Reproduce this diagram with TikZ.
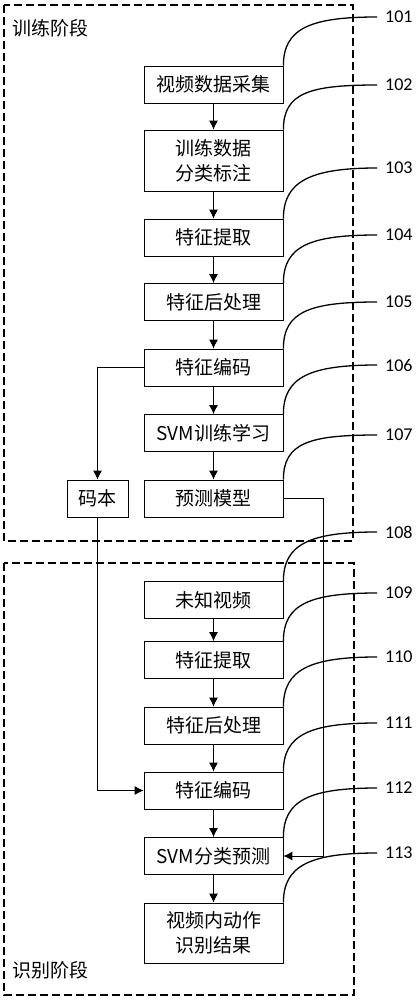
\documentclass[tikz,border=0pt]{standalone}
\usepackage{fontspec}
\setmainfont{Noto Sans CJK SC}
\newfontfamily\numfont{Carlito}
\usepackage{tikz}
\usetikzlibrary{arrows.meta}

\tikzset{
	stepbox/.style = {draw, line width = 0.8pt, minimum width = 139pt, minimum height = 37pt,
		inner sep = 0pt, align = center, font = \fontsize{19pt}{25pt}\selectfont},
	arr/.style = {line width = 0.9pt, -{Latex[length = 9pt, width = 9pt]}},
	phase/.style = {dash pattern = on 8pt off 4pt, line width = 1.2pt},
	numlbl/.style = {anchor = west, inner xsep = 8pt, inner ysep = 0pt, font = \numfont\fontsize{18pt}{20pt}\selectfont},
	leader/.style = {line width = 1.3pt}
}

\begin{document}
\begin{tikzpicture}[x = 1pt, y = -1pt]
\useasboundingbox (0,0) rectangle (418,1000);

% two stages
\draw[phase] (4,5) rectangle (353,541);
\draw[phase] (4,563) rectangle (354,995);
\node[anchor = west, inner sep = 0pt, font = \fontsize{19pt}{25pt}\selectfont] (train) at (12,28) {训练阶段};
\node[anchor = west, inner sep = 0pt, font = \fontsize{19pt}{25pt}\selectfont] (recog) at (12,970) {识别阶段};

% training
\node[stepbox] (b1) at (213.5,84.5) {视频数据采集};
\node[stepbox, minimum height = 61pt] (b2) at (213.5,160.5) {训练数据\\分类标注};
\node[stepbox] (b3) at (213.5,237.5) {特征提取};
\node[stepbox] (b4) at (213.5,302) {特征后处理};
\node[stepbox] (b5) at (213.5,367.5) {特征编码};
\node[stepbox] (b6) at (213.5,433) {SVM训练学习};
\node[stepbox] (b7) at (213.5,498.5) {预测模型};
\node[stepbox, minimum width = 61pt] (cb) at (97.5,498.5) {码本};

% recognition
\node[stepbox] (b8) at (213.5,600) {未知视频};
\node[stepbox] (b9) at (213.5,660) {特征提取};
\node[stepbox] (b10) at (213.5,725.5) {特征后处理};
\node[stepbox] (b11) at (213.5,790.5) {特征编码};
\node[stepbox] (b12) at (213.5,856) {SVM分类预测};
\node[stepbox, minimum height = 60pt] (b13) at (213.5,933) {视频内动作\\识别结果};

\foreach \a/\b in {b1/b2,b2/b3,b3/b4,b4/b5,b5/b6,b6/b7,b8/b9,b9/b10,b10/b11,b11/b12,b12/b13}
	\draw[arr] (\a) -- (\b);

\draw[arr] (b5.west) -| (cb.north);
\draw[arr] (cb.south) |- (b11.west);
\draw[arr] (b7.east) -- ++(40,0) |- (b12.east);

% reference numbers
\foreach \b/\n/\y in {b1/101/17, b2/102/85, b3/103/168, b4/104/235, b5/105/302, b6/106/365, b7/107/435,
	b8/108/532, b9/109/593, b10/110/657, b11/111/723, b12/112/788, b13/113/853}
{
	\node[numlbl] (l\n) at (377,\y) {\n};
	\draw[leader] (\b.north east) .. controls +(0,-37) and +(-67,0) .. (l\n.west);
}
\end{tikzpicture}
\end{document}
